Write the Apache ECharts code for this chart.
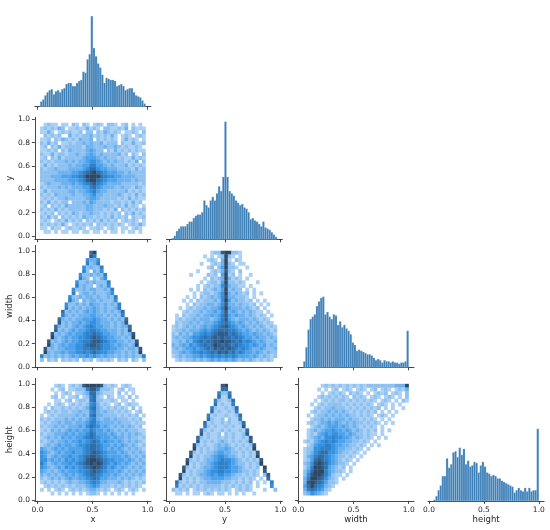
<!DOCTYPE html>
<html><head><meta charset="utf-8">
<script src="https://cdn.jsdelivr.net/npm/echarts@6/dist/echarts.min.js"></script>
<style>html,body{margin:0;padding:0;background:#fff}#c{width:550px;height:530px}</style>
</head><body><div id="c"></div>
<script>
// ---------- data ----------
const variables = ['x', 'y', 'width', 'height'];
const colTicks = [0.0, 0.5, 1.0];
const rowTicks = [0.0, 0.2, 0.4, 0.6, 0.8, 1.0];

// data ranges (min, max) of each variable -> bin extents
const xRange = [0.024, 0.982];
const yRange = [0.02, 0.97];
const widthRange = [0.045, 1.0];
const heightRange = [0.04, 1.0];

// diagonal histograms, 50 bins each (counts, shared scale)
const xHist = [5,7,11,14,16,17,12,15,16,14,17,18,22,23,23,20,20,23,25,26,34,33,46,51,88,57,49,42,38,31,23,28,27,26,26,25,20,21,22,20,16,17,18,18,14,11,10,9,6,3];
const yHist = [1,3,7,9,11,11,11,13,15,15,18,20,21,21,23,33,29,27,33,36,33,39,45,41,53,100,53,41,39,37,33,31,29,30,27,26,23,17,18,16,15,13,11,15,10,9,8,6,4,2];
const widthHist = [5,17,32,41,43,45,52,56,59,60,45,47,43,41,45,44,36,39,34,36,33,31,28,21,19,14,15,14,13,12,11,11,10,8,6,7,6,4,6,5,5,4,5,4,4,3,4,4,5,31];
const heightHist = [1,4,9,13,21,21,36,28,31,41,42,37,45,39,44,31,34,29,30,33,32,24,30,33,29,24,23,21,22,21,19,19,17,16,15,14,13,12,7,9,11,9,8,11,8,11,8,9,9,61];

// 2D histograms: density level 0-9 per cell, rows from top (high) to bottom (low), 30x30
const gridXY = [
"0121101102 1021012102 2101201010",
"1212132011 2113121022 1121302111",
"1131012121 1202202132 1210112102",
"0212120031 2122312121 3101210121",
"1120213212 1322302121 2101312101",
"2131201121 2232322312 2202113112",
"1202131222 2213322232 2321211210",
"1121202132 2223432202 1312121211",
"2113122122 3223432322 2231202102",
"1202131222 2234443232 2212113121",
"2121222323 2334554323 2322121302",
"1312122232 3344664432 3222312121",
"2122322233 3345775443 3322221312",
"2222233334 4567897654 4433232222",
"2223334445 5679999765 5443333222",
"2222333344 4568997654 4433332322",
"1232223334 3456786543 3332222212",
"2122232323 3344675433 3223221321",
"1312222233 2334564332 2222312121",
"2121322223 2233453322 2232121312",
"1212122322 2223443222 2212131211",
"2131212202 2232432222 1221213120",
"1202121322 2223322232 2121312101",
"2121312122 2223322212 1302121212",
"1212021213 2122322121 2120213121",
"2131202121 2132212121 3121202112",
"1210121312 1202121312 1201212101",
"2121213101 2121202121 2121012131",
"1102110121 1210112101 2101101210",
"0110101101 1011011010 1101011010"];

const gridXWidth = [
"0000000000 0000790000 0000000000",
"0000000000 0000860000 0000000000",
"0000000000 0005335000 0000000000",
"0000000000 0006236000 0000000000",
"0000000000 0052322600 0000000000",
"0000000000 0062032500 0000000000",
"0000000000 0522323260 0000000000",
"0000000000 0632021350 0000000000",
"0000000000 5223232226 0000000000",
"0000000000 6232202325 0000000000",
"0000000005 2232332232 6000000000",
"0000000006 0233232223 5000000000",
"0000000052 2323323223 2600000000",
"0000000063 2032332322 2500000000",
"0000000522 3232433232 3260000000",
"0000000623 2323343232 2360000000",
"0000007232 3234343232 3237000000",
"0000006323 2333443323 2326000000",
"0000073232 3344454332 3232700000",
"0000082323 3434554333 2323800000",
"0000732323 4345654433 2323370000",
"0000823234 3445665443 3323280000",
"0008232343 4456676544 3323238000",
"0009323434 4556787654 4332329000",
"0082323434 4566788765 4433232800",
"0093234344 5567887655 4343323900",
"0823233444 5566777655 4433233280",
"0932334344 5565676554 4332323290",
"6232323234 3445454343 3232323226",
"2021202121 2021201212 1021202102"];

const gridXHeight = [
"0000121012 1289999821 2101210000",
"0001012011 2226886222 1012011000",
"0000101210 1123773211 1020101000",
"0001201011 2012672102 1011020100",
"0000110120 1221672211 2101101000",
"0010121012 1212563121 0120121100",
"0102112121 2123673212 1212102010",
"0121212212 2322563232 2121210120",
"1012122222 3232673322 2212121201",
"2121222323 2323563233 2322212120",
"1212232332 3334664333 3232221211",
"2122323233 3435765343 2323232120",
"1213232343 4344654434 3232322211",
"2122333434 3445764443 4323232321",
"1232324343 4456765444 3433232212",
"2123233434 4545676454 4343232321",
"1232343443 4556776544 3434323212",
"4323434344 4456776543 4343232321",
"5432343445 4456787654 4434323232",
"5423434454 4567887654 4443432323",
"5534343545 4568998765 5444343232",
"6423434454 5678989865 4543432323",
"5432343545 4567898764 5434323232",
"4323234344 4556787654 4343232323",
"3232323434 3456776544 3432323232",
"2123232343 3445676443 3323232121",
"1212121232 2334565332 2232121212",
"0121212121 2223454222 1212121210",
"1010121012 1212332121 0121012101",
"0001010101 0101221010 1010101000"];

const gridYWidth = [
"0000000000 0122899221 0000000000",
"0000000001 0101292101 0000000000",
"0000000000 1210391021 0000000000",
"0000000010 0121392101 1000000000",
"0000000000 1202492210 0100000000",
"0000000100 0121382102 0000000000",
"0000010000 2120491201 0010000000",
"0000000001 0212393121 0100000000",
"0000000010 1221492212 1000100000",
"0000000101 2122583221 1010000000",
"0000010102 1232492322 0101000000",
"0000001012 2123593232 1201010000",
"0000101021 2323583322 2101000000",
"0001010212 2232594232 2120101000",
"0000102122 3323583323 2212010100",
"0010121223 2334694333 2321201000",
"0001212232 3343583432 3232110100",
"0102122323 3434684343 3232121010",
"0121223233 3234684323 3323212100",
"0212232323 3345675434 3232321210",
"1212323234 3456786543 4323232121",
"1223233345 4567776654 3432323212",
"2132324456 5678886765 4434332321",
"2323345567 6787877676 5443433232",
"2232435676 7788988767 5654343223",
"3234354567 6798787676 5545434232",
"2323445456 7687878765 6543343223",
"2234345565 6768786756 5443432322",
"1232334454 5656565654 4434323212",
"0121223232 3434343432 3232121210"];

const gridYHeight = [
"0000000000 0000890000 0000000000",
"0000000000 0000770000 0000000000",
"0000000000 0006226000 0000000000",
"0000000000 0007117000 0000000000",
"0000000000 0062112700 0000000000",
"0000000000 0071211600 0000000000",
"0000000000 0621121270 0000000000",
"0000000000 0712112160 0000000000",
"0000000000 6121121127 0000000000",
"0000000000 7211202116 0000000000",
"0000000007 1211212112 7000000000",
"0000000006 2121121211 8000000000",
"0000000072 1211212112 1700000000",
"0000000081 2112021211 2800000000",
"0000000721 2112121211 2180000000",
"0000000812 1212321212 1280000000",
"0000008212 1123232121 2128000000",
"0000009121 2123343212 1219000000",
"0000082121 2234433221 2121800000",
"0000091212 2345543321 2121900000",
"0000821212 3345655432 1212180000",
"0000912122 3456665432 2121290000",
"0008212123 3456665443 2121209000",
"0009121223 4556655443 2212108000",
"0082121233 4545544322 1212102800",
"0091212123 3444433221 2121010700",
"0721212122 3333222121 2120101060",
"0612121212 2222121212 1210100050",
"2121201212 1212121012 1210001002",
"0110101101 2101101010 1001000000"];

const gridWidthHeight = [
"0000012121 2121212122 2222223339",
"0000101012 0121012101 2012101213",
"0000010121 2102121010 1212012102",
"0000121212 1210212101 2101210102",
"0001012121 2212121212 1012101021",
"0010121222 2121212121 0121010100",
"0001212232 2212121212 1201010010",
"0012122323 2321212121 2010101000",
"0101223232 3232212121 0121010000",
"0012232323 3323221212 1010100000",
"0121233434 3232322121 2101010000",
"0012323444 3432321212 1010000000",
"0123234454 4343232121 2010100000",
"0121345455 4434322121 1010000000",
"0123435565 5443232121 0101000000",
"1213456565 4433221210 1000000000",
"0124556654 4332212101 0100000000",
"1225566654 3322121010 0000000000",
"1235677554 3221210100 0000000000",
"1346776543 2212101000 0000000000",
"1247876543 2121010000 0000000000",
"2358987543 2210100000 0000000000",
"1369987432 1201000000 0000000000",
"2479996432 2101000000 0000000000",
"2589986421 1010000000 0000000000",
"3699875321 0100000000 0000000000",
"3898764221 0000000000 0000000000",
"4797653210 0000000000 0000000000",
"3676542100 0000000000 0000000000",
"2354321000 0000000000 0000000000"];

// ---------- layout & style ----------
const ranges = {x: xRange, y: yRange, width: widthRange, height: heightRange};
const hists = {x: xHist, y: yHist, width: widthHist, height: heightHist};
const pairs = [
  {c: 0, r: 1, cells: gridXY},
  {c: 0, r: 2, cells: gridXWidth},
  {c: 0, r: 3, cells: gridXHeight},
  {c: 1, r: 2, cells: gridYWidth},
  {c: 1, r: 3, cells: gridYHeight},
  {c: 2, r: 3, cells: gridWidthHeight}
];
const axisLim = {x: [-0.024, 1.03], y: [-0.028, 1.018], width: [-0.003, 1.048], height: [-0.008, 1.048]};
const colLeft = [34.9, 166.4, 298, 428.1], colW = 116;
const rowTop = [-15.3, 117.3, 245.3, 378.4], rowH = [122, 122, 122, 122.5];
const DIAG_MAX = 103.7;
const palette = ['rgba(0,0,0,0)', '#abd0f3', '#8dc1f1', '#6db2ef', '#4ca2eb', '#3391e0', '#2f80c6', '#2f6ea8', '#2f5b86', '#2c4862'];
const FONT = 'DejaVu Sans';
const AX = '#333333';
const TXT = '#262626';

const grids = [], xAxes = [], yAxes = [], series = [];

function xAxisCfg(gi, v, bottom) {
  return {
    type: 'value', gridIndex: gi, min: axisLim[v][0], max: axisLim[v][1], position: 'bottom',
    axisLine: {show: true, onZero: false, lineStyle: {color: AX, width: 0.9}},
    axisTick: {show: true, customValues: colTicks, length: 3, lineStyle: {color: AX, width: 0.9}},
    axisLabel: {show: bottom, customValues: colTicks, formatter: (t) => t.toFixed(1),
      fontSize: 7.5, color: TXT, margin: 5, fontFamily: FONT},
    splitLine: {show: false}, minorTick: {show: false},
    name: bottom ? v : '', nameLocation: 'middle', nameGap: 14,
    nameTextStyle: {fontSize: 8.5, color: TXT, fontFamily: FONT}
  };
}
function yAxisCfg(gi, v, left) {
  return {
    type: 'value', gridIndex: gi, min: axisLim[v][0], max: axisLim[v][1], position: 'left',
    axisLine: {show: true, onZero: false, lineStyle: {color: AX, width: 0.9}},
    axisTick: {show: true, customValues: rowTicks, length: 3, lineStyle: {color: AX, width: 0.9}},
    axisLabel: {show: left, customValues: rowTicks, formatter: (t) => t.toFixed(1),
      fontSize: 7.5, color: TXT, margin: 5, fontFamily: FONT},
    splitLine: {show: false}, minorTick: {show: false},
    name: left ? v : '', nameLocation: 'middle', nameGap: 21,
    nameTextStyle: {fontSize: 8.5, color: TXT, fontFamily: FONT}
  };
}

function renderHeat(params, api) {
  const a = api.coord([api.value(0), api.value(2)]);
  const b = api.coord([api.value(1), api.value(3)]);
  const lvl = api.value(4);
  return {
    type: 'rect',
    shape: {x: Math.min(a[0], b[0]) - 0.15, y: Math.min(a[1], b[1]) - 0.15,
            width: Math.abs(b[0] - a[0]) + 0.3, height: Math.abs(b[1] - a[1]) + 0.3},
    style: {fill: palette[lvl]}
  };
}
function renderBar(params, api) {
  const a = api.coord([api.value(0), api.value(2)]);
  const b = api.coord([api.value(1), api.value(3)]);
  return {
    type: 'rect',
    shape: {x: a[0], y: b[1], width: b[0] - a[0], height: a[1] - b[1]},
    style: {fill: '#3d7fb7', stroke: 'rgba(225,238,250,0.55)', lineWidth: 0.35}
  };
}

// diagonal histograms
variables.forEach((v, i) => {
  const gi = grids.length;
  grids.push({left: colLeft[i], top: rowTop[i], width: colW, height: rowH[i], containLabel: false});
  xAxes.push(xAxisCfg(gi, v, i === 3));
  yAxes.push({type: 'value', gridIndex: gi, min: 0, max: DIAG_MAX, show: false});
  const h = hists[v], lo = ranges[v][0], hi = ranges[v][1], bw = (hi - lo) / h.length;
  const data = h.map((cnt, k) => [lo + k * bw, lo + (k + 1) * bw, 0, cnt]);
  series.push({type: 'custom', coordinateSystem: 'cartesian2d', xAxisIndex: gi, yAxisIndex: gi,
    renderItem: renderBar, encode: {x: [0, 1], y: [2, 3]}, data: data, silent: true, clip: false});
});

// off-diagonal 2D histograms
pairs.forEach((p) => {
  const vx = variables[p.c], vy = variables[p.r];
  const gi = grids.length;
  grids.push({left: colLeft[p.c], top: rowTop[p.r], width: colW, height: rowH[p.r], containLabel: false});
  xAxes.push(xAxisCfg(gi, vx, p.r === 3));
  yAxes.push(yAxisCfg(gi, vy, p.c === 0));
  const rows = p.cells.map((s) => s.replace(/\s/g, ''));
  const nR = rows.length, nC = 30;
  const [xlo, xhi] = ranges[vx], [ylo, yhi] = ranges[vy];
  const dx = (xhi - xlo) / nC, dy = (yhi - ylo) / nR;
  const data = [];
  rows.forEach((row, k) => {
    const j = nR - 1 - k;
    for (let c = 0; c < Math.min(nC, row.length); c++) {
      const lvl = +row[c];
      if (lvl > 0) data.push([xlo + c * dx, xlo + (c + 1) * dx, ylo + j * dy, ylo + (j + 1) * dy, lvl]);
    }
  });
  series.push({type: 'custom', coordinateSystem: 'cartesian2d', xAxisIndex: gi, yAxisIndex: gi,
    renderItem: renderHeat, encode: {x: [0, 1], y: [2, 3]}, data: data, silent: true});
});

const chart = echarts.init(document.getElementById('c'), null, {renderer: 'canvas'});
chart.setOption({
  backgroundColor: '#ffffff',
  animation: false,
  grid: grids, xAxis: xAxes, yAxis: yAxes, series: series
});
</script>
</body></html>
